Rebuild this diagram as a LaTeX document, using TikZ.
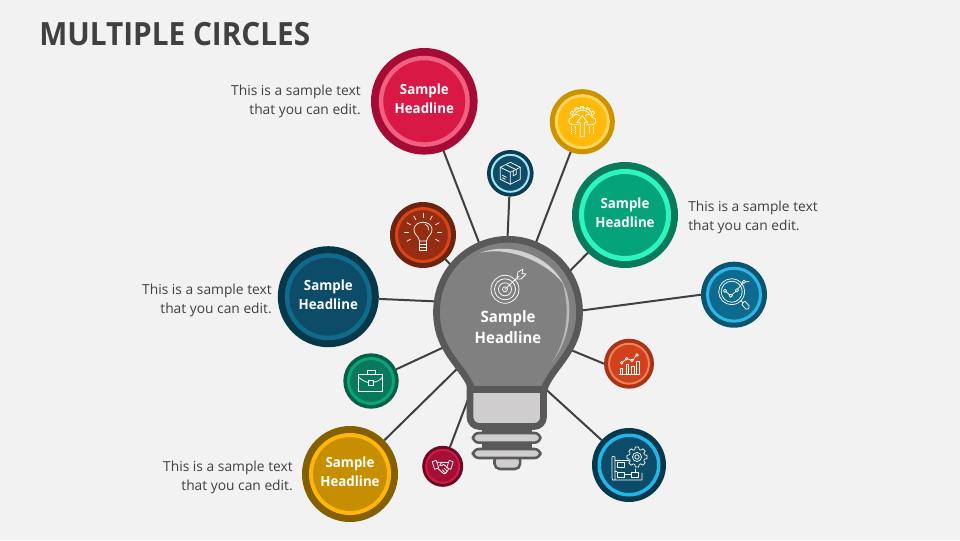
\documentclass[tikz,border=0pt]{standalone}
\usepackage{fontspec}
\setmainfont{Open Sans}
\newfontfamily\headfont[FakeStretch=0.95]{Open Sans}
\newfontfamily\titlefont[FakeStretch=0.93]{Open Sans}
\usepackage{xcolor}
\usetikzlibrary{calc,positioning}

\definecolor{pagebg}{HTML}{F2F2F2}
\definecolor{inktxt}{HTML}{404040}
\definecolor{bulbfill}{HTML}{808080}
\definecolor{bulbline}{HTML}{595959}
\definecolor{basefill}{HTML}{CFCDCE}
\definecolor{redO}{HTML}{A50B35}\definecolor{redR}{HTML}{F06080}\definecolor{redF}{HTML}{D81845}
\definecolor{yelO}{HTML}{CC9200}\definecolor{yelR}{HTML}{FFD55C}\definecolor{yelF}{HTML}{FFB90A}
\definecolor{boxO}{HTML}{0B3D52}\definecolor{boxR}{HTML}{A7E2F5}\definecolor{boxF}{HTML}{0F4C68}
\definecolor{lmpO}{HTML}{6B2410}\definecolor{lmpR}{HTML}{D9441A}\definecolor{lmpF}{HTML}{962D12}
\definecolor{grnO}{HTML}{0A7A5D}\definecolor{grnR}{HTML}{2DF5BE}\definecolor{grnF}{HTML}{05A37A}
\definecolor{teaO}{HTML}{07384A}\definecolor{teaR}{HTML}{0F6A8C}\definecolor{teaF}{HTML}{0C4C68}
\definecolor{bagO}{HTML}{075F4A}\definecolor{bagR}{HTML}{0AA578}\definecolor{bagF}{HTML}{08795B}
\definecolor{golO}{HTML}{856000}\definecolor{golR}{HTML}{FFB60B}\definecolor{golF}{HTML}{C78E00}
\definecolor{hndO}{HTML}{6B0A25}\definecolor{hndR}{HTML}{D11B47}\definecolor{hndF}{HTML}{A50E35}
\definecolor{seaO}{HTML}{0A5470}\definecolor{seaR}{HTML}{2BB8E8}\definecolor{seaF}{HTML}{0E6A8E}
\definecolor{chaO}{HTML}{A83415}\definecolor{chaR}{HTML}{EF8060}\definecolor{chaF}{HTML}{D1421A}
\definecolor{gerO}{HTML}{07394D}\definecolor{gerR}{HTML}{22B5E8}\definecolor{gerF}{HTML}{0C4C68}

\tikzset{
  disc/.style={circle,inner sep=0pt,outer sep=0pt},
  spoke/.style={draw=inktxt,line width=1.5pt},
  icon/.style={draw=white,line width=0.55pt,line join=round,line cap=round},
  head/.style={text=white,font=\headfont\fontsize{10.5}{14.25}\selectfont\bfseries,align=center,inner sep=0pt},
  note/.style={text=inktxt,font=\fontsize{10.35}{14.25}\selectfont,inner sep=0pt},
  bulbpart/.style={fill=basefill,draw=bulbline,line width=1.9pt}
}

\begin{document}
\begin{tikzpicture}[x=0.75pt,y=-0.75pt]
  \fill[pagebg] (0,0) rectangle (960,540);
  \useasboundingbox (0,0) rectangle (960,540);

  \node[anchor=west,inner sep=0pt,text=inktxt,font=\titlefont\fontsize{24}{28}\selectfont\bfseries] (title) at (39,34) {MULTIPLE CIRCLES};

  % Circles: outer disc, then ring with its fill
  \foreach \nm/\px/\py/\ro/\ra/\ri/\tone in {
    red/424.3/101.3/53.3/45.5/41/red, yellow/582.3/121.7/32.5/27.5/24.5/yel,
    box/510.3/173.3/23.3/19.5/17.5/box, lamp/423/235/33/28/25/lmp,
    green/625/215/53/46/41/grn, teal/328.3/296.7/50.5/43.5/39/tea,
    bag/371/381/27.7/24/21/bag, gold/350/474/48/41/37/gol,
    hand/442.7/466.3/20.5/17.5/15.5/hnd, search/734/294.7/33/28/25/sea,
    chart/629/363.7/25/21/19/cha, gear/629/465/37/31.5/28/ger} {
      \node[disc,fill=\tone O,minimum size={2*\ro*0.75pt}] (\nm) at (\px,\py) {};
      \node[disc,fill=\tone F,draw=\tone R,line width={(\ra-\ri)*0.75pt},minimum size={(\ra+\ri)*0.75pt}] (\nm in) at (\nm) {};
  }

  % Points hidden behind the bulb
  \coordinate (tipred) at (485,258);
  \coordinate (tipbox) at (507,250);
  \coordinate (tipyellow) at (530,258);
  \coordinate (tiplamp) at (460,275);
  \coordinate (tipgreen) at (560,281);
  \coordinate (tipteal) at (450,302);
  \coordinate (tipbag) at (455,342);
  \coordinate (tipgold) at (465,361);
  \coordinate (tiphand) at (475,381);
  \coordinate (tipsearch) at (570,312);
  \coordinate (tipchart) at (566,348);
  \coordinate (tipgear) at (540,384);

  \foreach \nm in {red,yellow,box,lamp,green,teal,bag,gold,hand,gear} {
    \draw[spoke] (\nm) -- (tip\nm);
  }
  \draw[spoke] (search.west) -- (tipsearch);
  \draw[spoke] (chart.west) -- (tipchart);

  % Bulb
  \fill[bulbline] (482,425) rectangle (532,452);
  \draw[bulbpart,rounded corners=4pt] (494.5,455) rectangle (520.2,469);
  \draw[bulbpart,rounded corners=4.5pt] (473,433) rectangle (540.4,442.7);
  \draw[bulbpart,rounded corners=4.5pt] (473,449) rectangle (540.4,458);
  \draw[fill=basefill,draw=bulbline,line width=5pt,rounded corners=7pt] (470,385) -- (470,426.5) -- (543.5,426.5) -- (543.5,385);
  \draw[fill=bulbfill,draw=bulbline,line width=5pt,line join=round] (472,389.5)
    .. controls (464,366) and (436.5,352) .. (436.5,312)
    .. controls (436.5,270) and (470,239.3) .. (508,239.3)
    .. controls (546,239.3) and (579.5,270) .. (579.5,312)
    .. controls (579.5,352) and (552,366) .. (544,389.5) -- cycle;
  \fill[white,opacity=0.65] (480,253) .. controls (512,240) and (555,258) .. (566,290)
    .. controls (561,272) and (516,244) .. (480,253) -- cycle;
  \fill[white,opacity=0.45] (566,290) .. controls (571,303) and (573,335) .. (552,362)
    .. controls (565,343) and (571,315) .. (563,284) -- cycle;

  % Target on the bulb
  \foreach \rr in {14,10.5,6.5,2.5} {
    \draw[icon] (505,289.3) circle (\rr);
  }
  \draw[icon] (505,289.3) -- (519,276) (517,277) -- (518,272) -- (523,269) -- (522,273.5) -- (526,274) -- (521,279) -- (517,279);
  \node[head,font=\headfont\fontsize{11.8}{15.75}\selectfont\bfseries] (bulbtxt) at (508,327) {Sample\\Headline};

  % Headlines
  \node[head] (redtxt) at ($(red)+(0,-3)$) {Sample\\Headline};
  \foreach \nm in {green,teal,gold} {
    \node[head] (\nm txt) at ($(\nm)+(0,-2)$) {Sample\\Headline};
  }

  % Notes
  \node[note,anchor=east,align=right] (rednote) at (361,101) {This is a sample text\\that you can edit.};
  \node[note,anchor=west,align=left] (greennote) at (688,217) {This is a sample text\\that you can edit.};
  \node[note,anchor=east,align=right] (tealnote) at (272,300) {This is a sample text\\that you can edit.};
  \node[note,anchor=east,align=right] (goldnote) at (293,477.5) {This is a sample text\\that you can edit.};

  % Box icon
  \begin{scope}[shift={(box)}]
    \draw[icon] (0,-11) -- (10,-6) -- (10,6) -- (0,11) -- (-10,6) -- (-10,-6) -- cycle;
    \draw[icon] (-10,-6) -- (0,-1) -- (10,-6) (0,-1) -- (0,11);
    \draw[icon] (-4,-8.5) -- (6,-3.5) -- (6,1) -- (3,2.5) -- (3,-2);
    \draw[icon] (-8,2) -- (-4,4) (-8,4.5) -- (-5,6);
  \end{scope}

  % Cloud icon
  \begin{scope}[shift={(yellow)}]
    \draw[icon] (-4,3) -- (-10,3) .. controls (-14.5,3) and (-15,-4) .. (-10,-4.5) .. controls (-9,-8) and (-5,-8) .. (-3,-6);
    \draw[icon] (4,3) -- (10,3) .. controls (14.5,3) and (15,-4) .. (10,-4.5) .. controls (9,-8) and (5,-8) .. (3,-6);
    \draw[icon] (-10,-6) .. controls (-9,-16.5) and (9,-16.5) .. (10,-6);
    \draw[icon] (-7,-7) .. controls (-6,-13) and (6,-13) .. (7,-7);
    \foreach \ang in {-50,-25,0,25,50} {
      \draw[icon,rotate=\ang] (-1.5,-13) -- (-1.5,-15) -- (1.5,-15) -- (1.5,-13);
    }
    \draw[icon] (-2,15) -- (-2,1) -- (-5.5,1) -- (0,-6) -- (5.5,1) -- (2,1) -- (2,15) -- cycle;
    \foreach \dx in {-11,-7,7,11} {
      \draw[icon,densely dotted] (\dx,5) -- (\dx,13);
    }
  \end{scope}

  % Lamp icon
  \begin{scope}[shift={(lamp)}]
    \draw[icon] (-3.5,6) .. controls (-4,1) and (-10,-1) .. (-9,-6) .. controls (-8,-15) and (8,-15) .. (9,-6) .. controls (10,-1) and (4,1) .. (3.5,6) -- cycle;
    \draw[icon] (2,-11) .. controls (5,-10) and (6,-7) .. (5.5,-5);
    \draw[icon] (-3.5,6) -- (-3.5,15) -- (3.5,15) -- (3.5,6);
    \foreach \yy in {9,12} {
      \draw[icon] (-3.5,\yy) -- (3.5,\yy);
    }
    \foreach \ang in {-30,0,30,60,90,120,150,180,210} {
      \draw[icon] (0,-3) ++({-\ang}:14.5) -- ++({-\ang}:4);
    }
  \end{scope}

  % Search icon
  \begin{scope}[shift={(search)}]
    \draw[icon] (-2.3,-3) circle (13);
    \draw[icon] (-2.3,-3) circle (10.5);
    \draw[icon] (7,6) -- (9,8);
    \draw[icon] (9,8) -- (11,6.5) -- (15,11) .. controls (15.5,14) and (14,15) .. (12,14.5) -- (8,10) -- cycle;
    \draw[icon] (-9,-4) circle (1.6) (-3.3,1) circle (1.6) (3,-4.5) circle (1.6) (10,-13) circle (1.6);
    \draw[icon] (-8,-3) -- (-4.5,0) (-2,0) -- (2,-3.5) (4,-6) -- (9,-12) (11.5,-13) -- (15,-13);
  \end{scope}

  % Chart icon
  \begin{scope}[shift={(chart)}]
    \draw[icon] (-10,10.7) -- (11,10.7);
    \foreach \bl/\bt/\br in {-9/4.7/-6.5,-3/0.7/-1,2/3/5,7/-2/10} {
      \draw[icon] (\bl,10.7) -- (\bl,\bt) -- (\br,\bt) -- (\br,10.7);
    }
    \foreach \cx/\cy in {-7.3/-1,-2.3/-5,3/-3.3,8/-8.7} {
      \draw[icon] (\cx,\cy) circle (1.3);
    }
    \draw[icon] (-6.2,-1.8) -- (-3.4,-4.2) (-1,-4.6) -- (1.7,-3.7) (4.2,-4) -- (6.9,-7.9);
  \end{scope}

  % Gear icon
  \begin{scope}[shift={(gear)}]
    \draw[icon] (-14,-8) -- (-14,15) -- (13,15) -- (13,8) (-14,-8) .. controls (-17,-9) and (-17,-9) .. (-17,-6) -- (-17,13) .. controls (-17,15) and (-16,16) .. (-14,15);
    \draw[icon] (-14,-5) -- (0,-5) (-14,6) -- (-12,6);
    \draw[icon] (-12,-2.5) rectangle (-4.5,2.5);
    \draw[icon] (-12,7.5) rectangle (-4.5,12);
    \draw[icon] (2,7.5) rectangle (9.5,12);
    \draw[icon] (-4.5,9.7) -- (2,9.7) (6,7.5) -- (6,4);
    \begin{scope}[shift={(8,-8)}]
      \foreach \ang in {0,45,...,315} {
        \draw[icon,rotate=\ang] (-2.2,-7.5) -- (-1.6,-10) -- (1.6,-10) -- (2.2,-7.5);
        \draw[icon,rotate=\ang] (2.2,-7.5) -- (3.3,-7);
      }
      \draw[icon] (0,0) circle (4.5);
      \draw[icon] (0,0) circle (2.2);
    \end{scope}
  \end{scope}

  % Briefcase icon
  \begin{scope}[shift={(bag)}]
    \draw[icon] (-12.7,-6.7) rectangle (11.7,10.7);
    \draw[icon] (-4,-6.7) -- (-4,-10.3) -- (4,-10.3) -- (4,-6.7);
    \draw[icon] (-12.7,-4) .. controls (-8,0) and (-5,1) .. (-2.5,1.5) (2,1.5) .. controls (5,1) and (8,0) .. (11.7,-4);
    \draw[icon] (-2.5,-0.5) rectangle (2,4);
  \end{scope}

  % Handshake icon
  \begin{scope}[shift={(hand)}]
    \draw[icon] (-10.5,-4.5) -- (-6.5,-6) -- (-4,1.5) -- (-8,3) -- cycle;
    \draw[icon] (10.5,-4.5) -- (6.5,-6) -- (4,1.5) -- (8,3) -- cycle;
    \draw[icon] (-6,-4) -- (-1,-4) -- (-3,-1) .. controls (-1,0) and (0,-1) .. (1,-2) -- (6,2.5);
    \draw[icon] (6,-4) -- (-1,-4);
    \draw[icon] (-5,2) -- (1,7.5) -- (3,7) -- (-0.5,3.5) (3,7) -- (4.5,5) -- (1.5,2) (4.5,5) -- (6,2.5);
  \end{scope}
\end{tikzpicture}
\end{document}
